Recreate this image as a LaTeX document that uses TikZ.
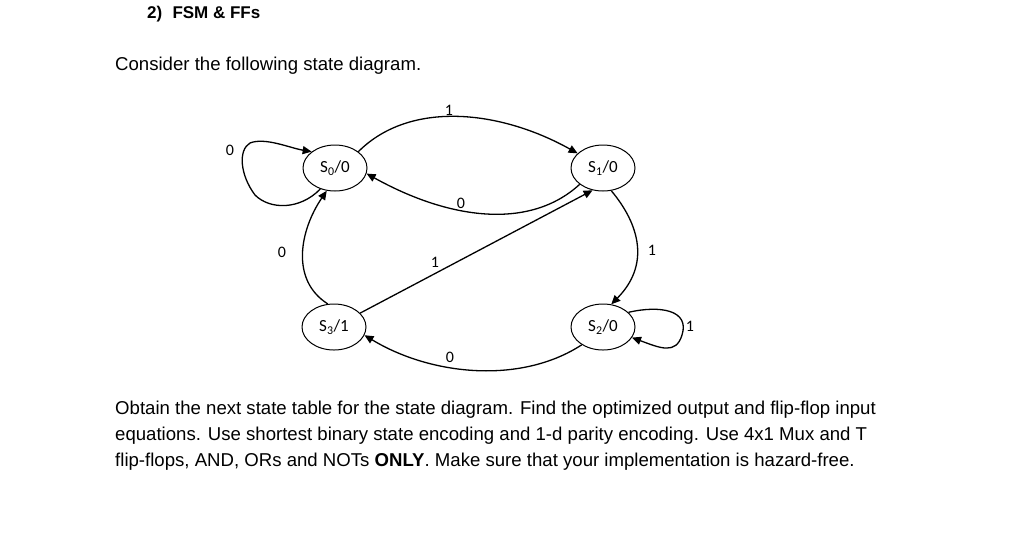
\documentclass[tikz,border=0pt]{standalone}
\usepackage{fontspec}
\setmainfont{Liberation Sans}
\newfontfamily\calfont{Carlito}
\usetikzlibrary{arrows.meta,shapes.geometric}
\begin{document}
\begin{tikzpicture}[x=1pt,y=-1pt,
  st/.style={draw,line width=1pt,ellipse,minimum width=64pt,minimum height=46pt,inner sep=0pt,font=\calfont\fontsize{17}{17}\selectfont},
  ed/.style={draw,line width=1.3pt,-{Triangle[length=9pt,width=8pt]}},
  lb/.style={font=\calfont\fontsize{16}{16}\selectfont},
  tx/.style={anchor=west,font=\fontsize{18.6}{22}\selectfont,inner sep=0pt}]
\useasboundingbox (0,0) rectangle (1024,542);
\node[tx,font=\bfseries\fontsize{17}{20}\selectfont] (h) at (147,14) {2)\hspace{0.6em}FSM \& FFs};
\node[tx] (c) at (115,66) {Consider the following state diagram.};
\node[tx,align=left,anchor=north west,font=\fontsize{18.6}{26}\selectfont] (p) at (115,401) {Obtain the next state table for the state diagram. Find the optimized output and flip-flop input\\equations. Use shortest binary state encoding and 1-d parity encoding. Use 4x1 Mux and T\\flip-flops, AND, ORs and NOTs \textbf{ONLY}. Make sure that your implementation is hazard-free.};
\node[st] (s0) at (335,168) {S\textsubscript{0}/0};
\node[st] (s1) at (603,168) {S\textsubscript{1}/0};
\node[st] (s3) at (334,327) {S\textsubscript{3}/1};
\node[st] (s2) at (603,327) {S\textsubscript{2}/0};
\draw[ed] (s0.235) .. controls (300,210) and (270,210) .. (255,195) .. controls (240,175) and (238,150) .. (250,143) .. controls (265,137) and (290,148) .. (s0.145);
\draw[ed] (s0.35) .. controls (410,100) and (500,110) .. (s1.150);
\draw[ed] (s1.215) .. controls (530,230) and (450,220) .. (s0.-10);
\draw[ed] (s3.105) .. controls (290,280) and (300,230) .. (s0.-110);
\draw[ed] (s3.28) -- (s1.-115);
\draw[ed] (s1.-70) .. controls (640,225) and (650,265) .. (s2.70);
\draw[ed] (s2.30) .. controls (660,305) and (690,310) .. (682,335) .. controls (676,355) and (660,348) .. (s2.-20);
\draw[ed] (s2.-140) .. controls (520,385) and (430,375) .. (s3.-15);
\node[lb] (l1) at (230,150) {0};
\node[lb] (l2) at (449,110) {1};
\node[lb] (l3) at (461,203) {0};
\node[lb] (l4) at (282,252) {0};
\node[lb] (l5) at (435,262) {1};
\node[lb] (l6) at (652,250) {1};
\node[lb] (l7) at (690,326) {1};
\node[lb] (l8) at (450,357) {0};
\end{tikzpicture}
\end{document}
